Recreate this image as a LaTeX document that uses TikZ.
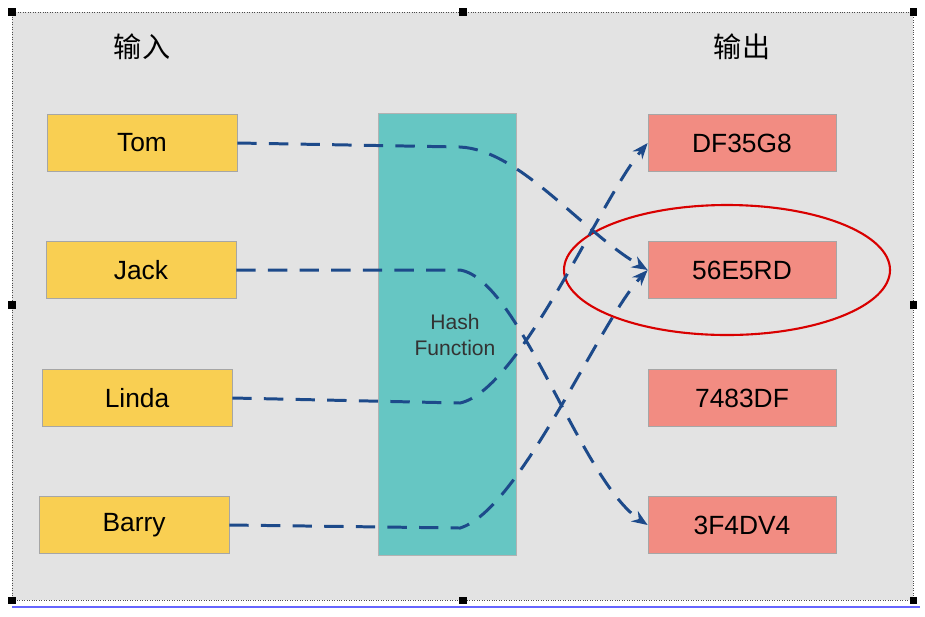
\documentclass[tikz,border=0pt]{standalone}
\usepackage{fontspec}
\setmainfont{Liberation Sans}
\newfontfamily\cjk{Noto Sans CJK SC}
\usetikzlibrary{arrows.meta,shapes,calc,positioning}
\definecolor{bggray}{HTML}{E3E3E3}
\definecolor{inyellow}{HTML}{F9CF52}
\definecolor{outred}{HTML}{F28C82}
\definecolor{hashteal}{HTML}{66C6C3}
\definecolor{dashblue}{HTML}{1D4A8A}
\tikzset{
  inbox/.style={draw=gray!70,fill=inyellow,minimum width=3.8cm,minimum height=1.14cm,font=\fontsize{15}{18}\selectfont},
  outbox/.style={draw=gray!70,fill=outred,minimum width=3.76cm,minimum height=1.14cm,font=\fontsize{15}{18}\selectfont},
  flow/.style={dashblue,line width=1.7pt,dash pattern=on 11pt off 7pt,-{Stealth[length=9pt,width=7pt]}},
  handle/.style={fill=black,minimum size=4pt,inner sep=0pt}
}
\begin{document}
\begin{tikzpicture}[x=0.02cm,y=-0.02cm]
\useasboundingbox (0,0) rectangle (925,616);
\fill[bggray] (12,12) rectangle (913,600);
\draw[densely dotted,gray!60!black] (12,12) rectangle (913,600);
\draw[blue!60,line width=1.5pt] (12,607) -- (920,607);
\foreach \x/\y in {12/12,463/12,913/12,12/305,913/305,12/600,463/600,913/600}{
	\node[handle] at (\x,\y) {};
}
\node[font=\cjk\fontsize{16}{18}\selectfont] (inlabel) at (142,47) {输入};
\node[font=\cjk\fontsize{16}{18}\selectfont] (outlabel) at (742,47) {输出};
% hash block
\node[draw=gray!60,fill=hashteal,minimum width=2.76cm,minimum height=8.84cm] (hash) at (447,334) {};
\node[align=center,font=\fontsize{12}{15}\selectfont,text=black!80] (hashtext) at (455,335) {Hash\\Function};
% inputs
\node[inbox] (tom) at (142,143) {Tom};
\node[inbox] (jack) at (141,270) {Jack};
\node[inbox] (linda) at (137,398) {Linda};
\node[inbox] (barry) at (134,525) {Barry};
% outputs
\node[outbox] (o1) at (742,143) {DF35G8};
\node[outbox] (o2) at (742,270) {56E5RD};
\node[outbox] (o3) at (742,398) {7483DF};
\node[outbox] (o4) at (742,525) {3F4DV4};
\draw[red!85!black,line width=1.2pt] ($(o2)+(-15,0)$) ellipse [x radius=163, y radius=65];
% mappings
\draw[flow] (tom.east) -- (460,147) .. controls (520,150) and (580,230) .. (o2.west);
\draw[flow] (jack.east) -- (460,270) .. controls (520,280) and (580,480) .. (o4.west);
\draw[flow] (linda.east) -- (460,403) .. controls (520,390) and (600,200) .. (o1.west);
\draw[flow] (barry.east) -- (460,528) .. controls (520,510) and (600,320) .. (o2.west);
\end{tikzpicture}
\end{document}
